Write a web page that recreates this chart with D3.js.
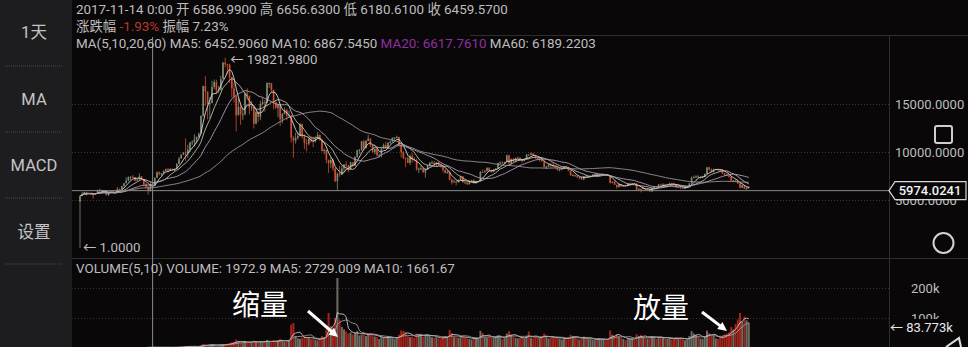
<!DOCTYPE html>
<html lang="zh">
<head>
<meta charset="UTF-8">
<title>K线</title>
<script src="https://cdn.jsdelivr.net/npm/d3@7"></script>
<style>
  html, body { margin: 0; padding: 0; background: #0a0709; overflow: hidden; }
  svg { display: block; font-family: Roboto, "Noto Sans CJK SC", sans-serif; }
</style>
</head>
<body>
<script>
// daily candles, 2017-10-12 .. 2018-08-12 (open = previous close)
const startDay = new Date(2017, 9, 12);
const firstOpen = 4830;

const closes = [
  5440,5640,5830,5680,5730,5600,5570,5700,6000,6000,5980,5900,5520,5750,5900,5780,5750,6150,6130,6470,
  6750,7030,7380,7410,7380,7020,7140,7460,7140,6620,6360,5950,6586.99,6459.57,7320,7870,7710,7790,8040,8200,8070,8250,8100,8250,8750,9320,9730,9950,9880,10230,
  10980,11070,11320,11590,11920,13750,16870,16290,15000,15110,16770,17280,16410,16470,17600,19300,19140,19110,17780,16620,15800,13830,14700,13930,13950,16100,15840,14610,14660,12950,14160,
  13660,15000,15200,15170,17170,17180,16480,15170,14600,14970,13400,13980,14360,13770,13820,11490,11190,11470,11660,12900,11600,10930,10870,11360,11260,11170,11440,11790,11300,10100,10220,
  9170,8830,9170,8280,6960,7750,7620,8270,8700,8620,8130,8930,8550,9500,10170,10230,11110,10400,11150,11400,10690,10010,10300,9660,9660,10370,10730,10400,
  10950,11090,11490,11510,11570,10760,9960,9400,9340,8870,9580,9200,9150,8200,8270,8300,7870,8200,8590,8900,8900,8720,8910,8550,8450,8140,7790,7940,7090,6840,6930,
  6840,7080,7460,6850,6810,6640,6910,7020,6770,6830,6940,7920,7890,8000,8360,8060,7900,8160,8290,8850,8920,8800,8940,9650,8860,9280,8990,9350,9390,9240,
  9080,9220,9740,9700,9860,9620,9370,9190,9310,9010,8420,8480,8720,8680,8510,8370,8100,8250,8250,8530,8420,8040,7560,7590,7480,7360,7370,7140,7470,7410,7490,
  7540,7640,7720,7500,7630,7650,7680,7620,7530,6790,6910,6580,6350,6640,6400,6500,6450,6710,6740,6770,6720,6060,6170,6150,6250,6090,6160,5900,6220,6400,
  6360,6620,6530,6600,6530,6600,6750,6710,6660,6300,6380,6250,6240,6270,6350,6740,7320,7380,7470,7330,7400,7400,7720,8400,8170,7930,8180,8230,8220,8180,7780,
  7620,7570,7430,7010,7030,6940,6720,6280,6540,6150,6240,6320
];

const highs = [
  5450,5860,5840,5860,5790,5770,5610,5720,6070,6180,6080,6050,5900,5770,5970,6000,5860,6360,6210,6470,
  6770,7370,7460,7490,7600,7400,7210,7780,7470,7230,6800,6480,6880,6656.63,7330,7970,8000,7820,8100,8270,8370,8300,8270,8280,8860,9490,9730,9970,11430,10760,
  11040,11190,11860,11600,12030,13830,16920,17900,16300,15730,17410,17560,17520,16890,17950,19400,19821.98,19180,19200,17860,17220,15830,15560,14890,14460,16230,16630,15900,15320,14690,14340,
  14200,15330,15700,15420,17250,17250,17180,16480,15390,15000,15010,14040,14660,14530,14310,13850,11680,12030,12060,13030,12950,11820,11360,11500,11660,11600,11620,12050,11800,11300,10380,
  10240,9220,9470,9320,8390,7850,8560,8600,8740,9020,8650,8990,8930,9520,10240,10320,11140,11270,11270,11790,11420,10850,10410,10410,9850,10410,10890,11090,
  11030,11190,11510,11530,11710,11570,10900,10100,9400,9530,9740,9900,9440,9300,8390,8590,8350,8270,8680,8920,9100,9050,8930,9000,8690,8490,8210,8100,7960,7240,7120,
  7050,7160,7520,7500,6940,6860,7040,7110,7180,6900,6970,8010,8190,8170,8380,8410,8160,8200,8300,8880,9010,9030,9000,9710,9750,9300,9370,9430,9530,9460,
  9240,9240,9770,9750,9950,9860,9620,9420,9370,9320,9020,8560,8760,8880,8850,8510,8420,8280,8380,8530,8560,8420,8050,7720,7650,7590,7380,7390,7510,7560,7580,
  7560,7700,7760,7740,7650,7700,7740,7710,7630,7530,6940,6910,6610,6690,6640,6560,6580,6780,6820,6800,6790,6720,6230,6200,6320,6270,6190,6170,6280,6460,
  6420,6660,6680,6750,6680,6620,6810,6790,6800,6680,6420,6380,6330,6310,6390,6740,7450,7540,7570,7600,7420,7530,7750,8420,8480,8290,8260,8240,8290,8260,8200,
  7800,7730,7570,7490,7090,7160,7150,6720,6620,6550,6460,6460
];

const lows = [
  1.0,5380,5580,5470,5630,5530,5120,5560,5630,5870,5710,5690,5450,5410,5710,5720,5720,5710,6030,6100,
  6380,6750,6960,7030,7300,6940,6990,7080,7070,6430,6230,5540,5880,6180.61,6450,7310,7560,7510,7690,7980,7890,8050,8070,8000,8240,8750,9320,9680,9090,9390,
  9990,10690,10560,10890,11480,11920,13700,14800,13400,13480,15060,16520,16050,16140,16430,17600,18800,18080,17200,15680,15150,12150,13830,12830,13340,13800,15410,13920,14260,12450,12870,
  13120,13310,14850,14200,15080,16670,16260,14430,14480,13630,12700,12980,13900,13300,13570,10980,9400,10880,11300,11630,11390,10290,10050,10690,10990,10490,10980,11400,11150,10050,9780,
  8840,7800,8360,8000,6850,6050,7420,7600,7930,8260,7850,8130,8450,8550,9400,9780,10140,10160,10360,11130,10530,9880,9750,9550,9400,9430,10340,10380,
  10400,10850,11060,11150,11410,10600,9420,9250,8410,8850,8630,8890,8980,8050,7810,8110,7850,7330,8150,8480,8750,8500,8480,8520,8370,7880,7780,7770,7080,6600,6820,
  6520,6840,7050,6800,6680,6560,6600,6910,6660,6730,6830,6880,7840,7840,8000,7960,7860,7900,8130,8280,8730,8780,8790,8930,8730,8650,8970,8960,9240,9170,
  8920,9040,9210,9580,9680,9560,9300,9120,8980,9000,8350,8230,8420,8360,8460,8250,8090,7970,8160,8210,8360,7990,7530,7510,7410,7330,7200,7110,7090,7360,7390,
  7410,7480,7610,7450,7420,7560,7640,7590,7500,6720,6740,6560,6170,6310,6380,6380,6440,6420,6690,6640,6700,6010,6060,5790,6090,6080,6050,5880,5830,6220,
  6280,6290,6510,6470,6460,6470,6570,6690,6650,6300,6290,6120,6170,6210,6270,6330,6690,7280,7290,7300,7240,7390,7380,7700,8060,7880,7850,8120,8160,7900,7700,
  7500,7530,7320,6990,6940,6920,6690,6230,6250,6140,6070,6200
];

// volume, thousands
const volumesK = [
  0.9,0.8,0.6,0.7,0.6,0.8,1.0,0.7,0.9,0.8,0.7,0.8,1.2,0.9,0.8,0.7,0.6,0.9,0.8,1.0,
  0.8,0.9,1.0,0.7,0.55,0.62,0.58,0.66,0.562,2.4,3.1,3.6,2.572,1.9729,2.2,2.6,2.1,1.8,2.0,2.3,2.5,2.2,1.9,2.4,2.8,3.4,3.9,4.2,6.8,5.9,
  5.5,4.8,5.2,5.0,5.6,8.2,12.5,11.8,9.6,10.4,11.0,10.2,9.8,8.9,10.6,11.4,12.8,14.0,15.2,18.6,20.4,28.2,22.5,19.0,16.8,21.5,19.2,20.4,18.5,24.2,20.8,
  18.6,22.8,20.4,21.6,26.8,21.0,19.4,24.6,22.0,25.8,30.4,24.2,20.6,22.8,23.4,78,83,40.2,32.5,30.4,34.8,38.6,36.2,33.0,29.8,32.4,27.6,25.0,28.8,39.4,36.6,
  62,117,72,68,100,233,95,70,62,55,48,52,45,50,56,42,44,50,40,46,48,44,38,36,30,38,35,34,
  38,36,33,30,34,44,58,57,52,40,36,38,34,48,46,42,38,44,46,42,36,34,36,32,30,36,40,38,60,50,36,
  36,34,40,38,34,32,30,28,36,32,30,57,50,36,34,38,36,34,36,42,38,30,34,48,56,44,38,34,32,34,
  36,32,40,55,34,32,38,36,34,36,48,40,32,34,36,34,36,32,28,30,32,36,44,40,36,32,28,34,38,32,30,
  30,28,26,30,32,28,30,26,28,58,44,40,46,38,34,30,26,32,30,32,28,46,40,44,36,34,32,38,40,36,
  30,36,38,34,32,30,34,28,30,36,32,34,30,26,28,40,56,48,42,38,32,30,38,58,50,42,40,32,30,34,40,
  45,48,52,70,62,80,95,117,88,105,92,84
];

const sideItems = ["1天", "MA", "MACD", "设置"];
const priceTicks = [5000, 10000, 15000];
const volTicks = [100, 200];
const crossDay = new Date(2017, 10, 14);
const crossPrice = 5974.0241;
const volMarker = "83.773k";

const W = 968, H = 347;

const days = d3.timeDay.range(startDay, d3.timeDay.offset(startDay, closes.length));
const candles = closes.map((c, i) => ({
  date: days[i],
  open: i ? closes[i - 1] : firstOpen,
  close: c, high: highs[i], low: lows[i], vol: volumesK[i]
}));

function movingAvg(arr, n) {
  return arr.map((_, i) => d3.mean(arr.slice(Math.max(0, i - n + 1), i + 1)));
}

const x = d3.scaleTime().domain([days[0], days[days.length - 1]]).range([80, 748.8]);
const y = d3.scaleLinear().domain([d3.min(lows), d3.max(highs)]).range([248, 57.7]);
const yv = d3.scaleLinear().domain([0, d3.max(volumesK)]).range([348, 278]);

const svg = d3.select('body').append('svg').attr('width', W).attr('height', H);

svg.append('rect').attr('width', W).attr('height', H).attr('fill', '#0a0709');

// left menu
svg.append('rect').attr('width', 72).attr('height', H).attr('fill', '#1d1d1f');
svg.selectAll('.side').data(sideItems).enter().append('text')
  .attr('x', 34).attr('y', (d, i) => 38 + i * 66.5)
  .attr('text-anchor', 'middle').attr('font-size', 16.5)
  .attr('fill', '#c4c4c4').text(d => d);
svg.selectAll('.sep').data(sideItems).enter().append('line')
  .attr('x1', 5).attr('x2', 62)
  .attr('y1', (d, i) => 66 + i * 66).attr('y2', (d, i) => 66 + i * 66)
  .attr('stroke', '#4a4a4a').attr('stroke-dasharray', '1,1');

// frame lines
const frame = svg.append('g').attr('stroke', '#2e2e2e').attr('stroke-width', 1);
frame.append('line').attr('x1', 470).attr('x2', W).attr('y1', 35.5).attr('y2', 35.5);
frame.append('line').attr('x1', 72).attr('x2', W).attr('y1', 258.5).attr('y2', 258.5);
frame.append('line').attr('x1', 889.5).attr('x2', 889.5).attr('y1', 36).attr('y2', H);

// dotted grid
svg.selectAll('.pgrid').data(priceTicks).enter().append('line')
  .attr('x1', 72).attr('x2', 889).attr('y1', d => Math.round(y(d)) + 0.5).attr('y2', d => Math.round(y(d)) + 0.5)
  .attr('stroke', '#3a3a3a').attr('stroke-dasharray', '1,2');
svg.selectAll('.vgrid').data(volTicks).enter().append('line')
  .attr('x1', 72).attr('x2', 889).attr('y1', d => Math.round(yv(d)) + 0.5).attr('y2', d => Math.round(yv(d)) + 0.5)
  .attr('stroke', '#333').attr('stroke-dasharray', '1,2');

const upColor = '#7f8a74', downColor = '#c9522e';

// candles
const cg = svg.append('g');
cg.selectAll('line').data(candles).enter().append('line')
  .attr('x1', d => x(d.date)).attr('x2', d => x(d.date))
  .attr('y1', d => y(d.high)).attr('y2', d => y(d.low))
  .attr('stroke', d => d.close >= d.open ? upColor : downColor).attr('stroke-width', 0.8);
cg.selectAll('rect').data(candles).enter().append('rect')
  .attr('x', d => x(d.date) - 0.8).attr('width', 1.6)
  .attr('y', d => y(Math.max(d.open, d.close)))
  .attr('height', d => Math.max(1, Math.abs(y(d.open) - y(d.close))))
  .attr('fill', d => d.close >= d.open ? upColor : downColor);

// moving averages
const maDefs = [
  { n: 5, color: '#e2e2e2' },
  { n: 10, color: '#c2c8ae' },
  { n: 20, color: '#b9a3c2' },
  { n: 60, color: '#9c9c9c' }
];
const line = d3.line().x((d, i) => x(days[i])).y(d => y(d));
maDefs.forEach(m => {
  svg.append('path').attr('d', line(movingAvg(closes, m.n)))
    .attr('fill', 'none').attr('stroke', m.color).attr('stroke-width', 1).attr('opacity', 0.85);
});

// volume
const vg = svg.append('g');
vg.selectAll('rect').data(candles).enter().append('rect')
  .attr('x', d => x(d.date) - 1).attr('width', 2)
  .attr('y', d => yv(d.vol)).attr('height', d => yv(0) - yv(d.vol))
  .attr('fill', d => d.close >= d.open ? '#6c6c62' : '#a3231a');
const vline = d3.line().x((d, i) => x(days[i])).y(d => yv(d));
[{ n: 5, color: '#d8d8d8' }, { n: 10, color: '#a8a8a8' }].forEach(m => {
  svg.append('path').attr('d', vline(movingAvg(volumesK, m.n)))
    .attr('fill', 'none').attr('stroke', m.color).attr('stroke-width', 1).attr('opacity', 0.8);
});

// crosshair
svg.append('line').attr('x1', x(crossDay)).attr('x2', x(crossDay)).attr('y1', 37).attr('y2', H)
  .attr('stroke', '#8a8a8a').attr('stroke-width', 1);
svg.append('line').attr('x1', 72).attr('x2', 889).attr('y1', y(crossPrice)).attr('y2', y(crossPrice))
  .attr('stroke', '#8a8a8a').attr('stroke-width', 1);

// right axes
const pAxis = svg.append('g').attr('transform', 'translate(889,0)')
  .call(d3.axisRight(y).tickValues(priceTicks).tickFormat(d3.format('.4f')).tickSize(0).tickPadding(6));
const vAxis = svg.append('g').attr('transform', 'translate(905,0)')
  .call(d3.axisRight(yv).tickValues(volTicks).tickFormat(d => d + 'k').tickSize(0).tickPadding(6));
[pAxis, vAxis].forEach(a => {
  a.select('.domain').remove();
  a.selectAll('text').attr('fill', '#bdbdbd').attr('font-size', 13)
    .attr('font-family', 'Roboto, sans-serif');
});

// crosshair value tag
const ty = y(crossPrice);
svg.append('path')
  .attr('d', `M889,${ty} L895,${ty - 9} L966,${ty - 9} L966,${ty + 9} L895,${ty + 9} Z`)
  .attr('fill', '#0a0709').attr('stroke', '#d8d8d8').attr('stroke-width', 1.2);
svg.append('text').attr('x', 930).attr('y', ty + 4.7).attr('text-anchor', 'middle')
  .attr('font-size', 13).attr('font-weight', 500).attr('fill', '#f2f2f2').text(crossPrice.toFixed(4));

svg.append('rect').attr('x', 890).attr('y', 319).attr('width', 60).attr('height', 16).attr('fill', '#0a0709');
svg.append('text').attr('x', 890).attr('y', 331.5).attr('font-size', 13)
  .attr('fill', '#e8e8e8').text('← ' + volMarker);

// max / min labels
const iMax = d3.maxIndex(highs), iMin = d3.minIndex(lows);
svg.append('text').attr('x', x(days[iMax]) + 5).attr('y', y(highs[iMax]) + 6.5)
  .attr('font-size', 13.3).attr('fill', '#bdbdbd').text('← ' + d3.format('.4f')(highs[iMax]));
svg.append('text').attr('x', x(days[iMin]) + 3).attr('y', y(lows[iMin]) + 4)
  .attr('font-size', 13.3).attr('fill', '#bdbdbd').text('← ' + d3.format('.4f')(lows[iMin]));

// header info
const hdr = svg.append('g').attr('font-size', 13.4).attr('fill', '#bdbdbd');
hdr.append('text').attr('x', 76).attr('y', 13.5)
  .text('2017-11-14 0:00 开 6586.9900 高 6656.6300 低 6180.6100 收 6459.5700');
const l2 = hdr.append('text').attr('x', 76).attr('y', 30.5);
l2.append('tspan').text('涨跌幅 ');
l2.append('tspan').attr('fill', '#b8382c').text('-1.93%');
l2.append('tspan').text(' 振幅 7.23%');
const l3 = hdr.append('text').attr('x', 76).attr('y', 47.5);
l3.append('tspan').text('MA(5,10,20,60)  MA5: 6452.9060  MA10: 6867.5450  ');
l3.append('tspan').attr('fill', '#8e2fa0').text('MA20: 6617.7610');
l3.append('tspan').text('  MA60: 6189.2203');

svg.append('text').attr('x', 76).attr('y', 272.5).attr('font-size', 13.4).attr('fill', '#bdbdbd')
  .text('VOLUME(5,10)  VOLUME: 1972.9  MA5: 2729.009  MA10: 1661.67');

// right side icons
svg.append('rect').attr('x', 935).attr('y', 126).attr('width', 17).attr('height', 17).attr('rx', 2)
  .attr('fill', 'none').attr('stroke', '#cfcfcf').attr('stroke-width', 2);
svg.append('circle').attr('cx', 943.5).attr('cy', 243).attr('r', 10)
  .attr('fill', 'none').attr('stroke', '#d2d2d2').attr('stroke-width', 2);
svg.append('path').attr('d', 'M946,347 L959,338 L961,347')
  .attr('fill', 'none').attr('stroke', '#e0e0e0').attr('stroke-width', 2);

// annotations
function arrow(x1, y1, x2, y2) {
  const a = Math.atan2(y2 - y1, x2 - x1), L = 10, s = 0.45;
  svg.append('line').attr('x1', x1).attr('y1', y1).attr('x2', x2 - 6 * Math.cos(a)).attr('y2', y2 - 6 * Math.sin(a))
    .attr('stroke', '#fff').attr('stroke-width', 3);
  svg.append('path')
    .attr('d', `M${x2},${y2} L${x2 - L * Math.cos(a - s)},${y2 - L * Math.sin(a - s)} L${x2 - L * Math.cos(a + s)},${y2 - L * Math.sin(a + s)} Z`)
    .attr('fill', '#fff');
}
svg.append('text').attr('x', 232).attr('y', 315).attr('font-size', 28)
  .attr('font-family', '"Noto Sans CJK SC", sans-serif').attr('fill', '#fff').text('缩量');
arrow(308, 311, 338, 337);
svg.append('text').attr('x', 633).attr('y', 318).attr('font-size', 28)
  .attr('font-family', '"Noto Sans CJK SC", sans-serif').attr('fill', '#fff').text('放量');
arrow(702, 312, 727, 331);
</script>
</body>
</html>
